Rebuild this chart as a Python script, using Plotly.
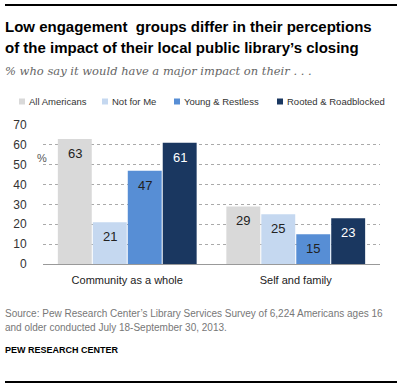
import plotly.graph_objects as go

categories = ["Community as a whole", "Self and family"]
series_names = ["All Americans", "Not for Me", "Young & Restless", "Rooted & Roadblocked"]
values = {
    "All Americans": [63, 29],
    "Not for Me": [21, 25],
    "Young & Restless": [47, 15],
    "Rooted & Roadblocked": [61, 23],
}
colors = ["#d9d9d9", "#c5d8f0", "#578ed5", "#1a3760"]
text_colors = ["#222222", "#222222", "#222222", "#ffffff"]
y_ticks = [0, 10, 20, 30, 40, 50, 60, 70]
legend_x = [22, 105, 177, 280]

FONT = "Liberation Sans"
BARGAP, GROUPGAP = 0.17, 0.03

fig = go.Figure()
for name, col in zip(series_names, colors):
    fig.add_trace(go.Bar(
        x=categories, y=values[name], name=name,
        marker=dict(color=col, line=dict(width=0)),
        showlegend=False, hoverinfo="skip",
    ))

# value labels placed at bar centres (derived from the grouped-bar layout)
n = len(series_names)
slot = (1 - BARGAP) / n
for i, (name, tcol) in enumerate(zip(series_names, text_colors)):
    for c, v in enumerate(values[name]):
        fig.add_annotation(x=c - (1 - BARGAP) / 2 + slot * (i + 0.5), y=v, xref="x", yref="y",
                           text=str(v), showarrow=False, yanchor="top", yshift=-5,
                           font=dict(family=FONT, size=13, color=tcol))

W, H = 402, 387
PL, PR, PT, PB = 43, 380, 124, 264   # plot-area pixel box

def px(x):
    return x / W

def py(y):
    return 1 - y / H

fig.update_layout(
    width=W, height=H,
    margin=dict(l=0, r=0, t=0, b=0, autoexpand=False),
    paper_bgcolor="white", plot_bgcolor="white",
    barmode="group", bargap=BARGAP, bargroupgap=GROUPGAP,
    showlegend=False,
    xaxis=dict(domain=[px(PL), px(PR)], range=[-0.5, 1.5], showgrid=False, showline=True,
               linecolor="#999999", linewidth=1, ticks="outside", ticklen=6,
               tickcolor="rgba(0,0,0,0)", automargin=False,
               tickfont=dict(family=FONT, size=11, color="#222222"), fixedrange=True),
    yaxis=dict(domain=[py(PB), py(PT)], range=[0, 70.5], tickvals=y_ticks, showgrid=True,
               gridcolor="#aaaaaa", griddash="dot", gridwidth=1, zeroline=False,
               showline=False, ticks="outside", ticklen=13, tickcolor="rgba(0,0,0,0)",
               automargin=False, fixedrange=True,
               tickfont=dict(family=FONT, size=12, color="#333333")),
    font=dict(family=FONT),
)

# top and bottom rules
for yy in (5, 382):
    fig.add_shape(type="line", xref="paper", yref="paper", x0=px(5), x1=px(397),
                  y0=py(yy), y1=py(yy), line=dict(color="#000000", width=2), layer="above")

def ann(text, x, y, size, color="#000000", family=FONT, anchor="left", yanchor="middle"):
    fig.add_annotation(text=text, xref="paper", yref="paper", x=px(x), y=py(y),
                       xanchor=anchor, yanchor=yanchor, showarrow=False, align="left",
                       font=dict(family=family, size=size, color=color))

# legend built from squares + labels
for name, col, lx in zip(series_names, colors, legend_x):
    fig.add_shape(type="rect", xref="paper", yref="paper",
                  x0=px(lx - 3), x1=px(lx + 3), y0=py(104.5), y1=py(98.5),
                  fillcolor=col, line=dict(width=0))
    ann(name, lx + 5, 101.5, 9.5, color="#333333")

ann("<b>Low engagement  groups differ in their perceptions</b>", 3, 26, 15)
ann("<b>of the impact of their local public library’s closing</b>", 3, 47, 15)
ann("<i>% who say it would have a major impact on their . . .</i>", 3, 71, 11.5, color="#666666",
    family="DejaVu Serif")
ann("%", 35, 158, 11, color="#555555")
ann("Source: Pew Research Center’s Library Services Survey of 6,224 Americans ages 16", 3, 313, 10,
    color="#777777")
ann("and older conducted July 18-September 30, 2013.", 3, 327, 10, color="#777777")
ann("<b>PEW RESEARCH CENTER</b>", 3, 350, 9)

fig.write_html("out.html", config={"displayModeBar": False},
               post_script="document.body.style.margin='0';document.body.style.padding='0';")
